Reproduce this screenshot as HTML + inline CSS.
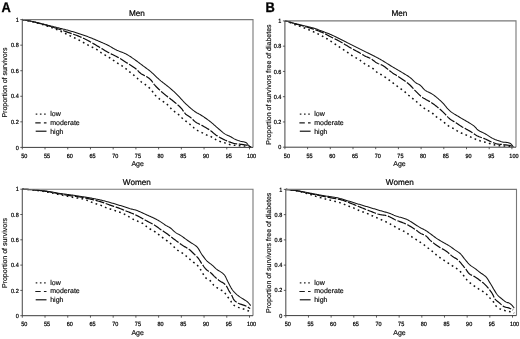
<!DOCTYPE html>
<html><head><meta charset="utf-8"><title>Survival curves</title>
<style>
html,body{margin:0;padding:0;background:#fff;}
body{width:520px;height:339px;overflow:hidden;}
svg{display:block;font-family:"Liberation Sans", Arial, Helvetica, sans-serif;text-rendering:geometricPrecision;filter:blur(0.3px);}
.tk{font-size:6.1px;fill:#000;stroke:#000;stroke-width:0.22px;}
.tt{font-size:8.2px;fill:#000;stroke:#000;stroke-width:0.2px;}
.lb{font-size:7px;fill:#111;stroke:#111;stroke-width:0.18px;}
.pl{font-size:14px;font-weight:bold;fill:#000;stroke:#000;stroke-width:0.3px;}
</style></head>
<body>
<svg width="520" height="339" viewBox="0 0 520 339">
<rect width="520" height="339" fill="#fff"/>
<text class="pl" transform="translate(1.6,11.9) scale(0.92,1)">A</text>
<text class="pl" transform="translate(265.5,11.9) scale(0.92,1)">B</text>
<g>
<path d="M22.30,19.60 L23.05,19.74 L23.80,19.89 L24.55,20.03 L25.30,20.18 L26.05,20.34 L26.80,20.50 L27.55,20.66 L28.30,20.82 L29.05,20.99 L29.80,21.15 L30.55,21.33 L31.30,21.50 L32.05,21.68 L32.80,21.86 L33.55,22.05 L34.30,22.24 L35.05,22.43 L35.80,22.62 L36.55,22.82 L37.30,23.02 L38.05,23.23 L38.80,23.43 L39.55,23.64 L40.30,23.86 L41.05,24.07 L41.80,24.29 L42.55,24.52 L43.30,24.75 L44.05,24.98 L44.80,25.21 L45.55,25.45 L46.30,25.70 L47.05,25.95 L47.80,26.20 L48.55,26.46 L49.30,26.72 L50.05,26.98 L50.80,27.25 L51.55,27.53 L52.30,27.82 L53.05,28.11 L53.80,28.40 L54.55,28.70 L55.30,29.01 L56.05,29.32 L56.80,29.63 L57.55,29.95 L58.30,30.27 L59.05,30.60 L59.80,30.92 L60.55,31.25 L61.30,31.59 L62.05,31.94 L62.80,32.29 L63.55,32.65 L64.30,33.01 L65.05,33.38 L65.80,33.74 L66.55,34.11 L67.30,34.48 L68.05,34.84 L68.80,35.20 L69.55,35.56 L70.30,35.92 L71.05,36.27 L71.80,36.62 L72.55,36.97 L73.30,37.32 L74.05,37.67 L74.80,38.03 L75.55,38.39 L76.30,38.75 L77.05,39.12 L77.80,39.50 L78.55,39.88 L79.30,40.27 L80.05,40.67 L80.80,41.08 L81.55,41.49 L82.30,41.90 L83.05,42.32 L83.80,42.74 L84.55,43.15 L85.30,43.57 L86.05,43.99 L86.80,44.40 L87.55,44.81 L88.30,45.21 L89.05,45.60 L89.80,45.98 L90.55,46.35 L91.30,46.72 L92.05,47.09 L92.80,47.46 L93.55,47.84 L94.30,48.23 L95.05,48.63 L95.80,49.04 L96.55,49.47 L97.30,49.92 L98.05,50.42 L98.80,50.96 L99.55,51.51 L100.30,52.05 L101.05,52.57 L101.80,53.05 L102.55,53.52 L103.30,53.98 L104.05,54.43 L104.80,54.87 L105.55,55.31 L106.30,55.74 L107.05,56.18 L107.80,56.63 L108.55,57.07 L109.30,57.53 L110.05,58.00 L110.80,58.49 L111.55,58.99 L112.30,59.50 L113.05,60.02 L113.80,60.54 L114.55,61.07 L115.30,61.60 L116.05,62.12 L116.80,62.64 L117.55,63.15 L118.30,63.65 L119.05,64.13 L119.80,64.59 L120.55,65.02 L121.30,65.44 L122.05,65.86 L122.80,66.31 L123.55,66.79 L124.30,67.32 L125.05,67.94 L125.80,68.61 L126.55,69.31 L127.30,69.99 L128.05,70.64 L128.80,71.25 L129.55,71.83 L130.30,72.41 L131.05,72.98 L131.80,73.56 L132.55,74.15 L133.30,74.77 L134.05,75.40 L134.80,76.05 L135.55,76.72 L136.30,77.39 L137.05,78.06 L137.80,78.74 L138.55,79.45 L139.30,80.17 L140.05,80.87 L140.80,81.53 L141.55,82.14 L142.30,82.68 L143.05,83.17 L143.80,83.63 L144.55,84.10 L145.30,84.59 L146.05,85.14 L146.80,85.72 L147.55,86.33 L148.30,86.97 L149.05,87.65 L149.80,88.36 L150.55,89.12 L151.30,89.94 L152.05,90.91 L152.80,91.99 L153.55,93.09 L154.30,94.13 L155.05,95.05 L155.80,95.82 L156.55,96.54 L157.30,97.20 L158.05,97.84 L158.80,98.45 L159.55,99.06 L160.30,99.65 L161.05,100.20 L161.80,100.73 L162.55,101.24 L163.30,101.73 L164.05,102.23 L164.80,102.73 L165.55,103.25 L166.30,103.79 L167.05,104.36 L167.80,104.98 L168.55,105.65 L169.30,106.44 L170.05,107.35 L170.80,108.28 L171.55,109.15 L172.30,109.87 L173.05,110.49 L173.80,111.06 L174.55,111.59 L175.30,112.10 L176.05,112.62 L176.80,113.15 L177.55,113.73 L178.30,114.36 L179.05,115.07 L179.80,115.83 L180.55,116.60 L181.30,117.35 L182.05,118.06 L182.80,118.71 L183.55,119.34 L184.30,119.95 L185.05,120.55 L185.80,121.13 L186.55,121.71 L187.30,122.28 L188.05,122.85 L188.80,123.43 L189.55,124.01 L190.30,124.61 L191.05,125.22 L191.80,125.86 L192.55,126.55 L193.30,127.28 L194.05,128.00 L194.80,128.68 L195.55,129.29 L196.30,129.79 L197.05,130.22 L197.80,130.60 L198.55,130.95 L199.30,131.29 L200.05,131.63 L200.80,132.00 L201.55,132.40 L202.30,132.83 L203.05,133.27 L203.80,133.70 L204.55,134.11 L205.30,134.47 L206.05,134.77 L206.80,135.03 L207.55,135.25 L208.30,135.46 L209.05,135.70 L209.80,135.97 L210.55,136.32 L211.30,136.77 L212.05,137.28 L212.80,137.82 L213.55,138.34 L214.30,138.80 L215.05,139.22 L215.80,139.62 L216.55,140.01 L217.30,140.38 L218.05,140.72 L218.80,141.02 L219.55,141.29 L220.30,141.53 L221.05,141.74 L221.80,141.94 L222.55,142.14 L223.30,142.35 L224.05,142.58 L224.80,142.85 L225.55,143.16 L226.30,143.47 L227.05,143.76 L227.80,144.02 L228.55,144.22 L229.30,144.40 L230.05,144.57 L230.80,144.72 L231.55,144.86 L232.30,144.98 L233.05,145.09 L233.80,145.19 L234.55,145.28 L235.30,145.36 L236.05,145.43 L236.80,145.50 L237.55,145.56 L238.30,145.61 L239.05,145.67 L239.80,145.71 L240.55,145.75 L241.30,145.79 L242.05,145.83 L242.80,145.88 L243.55,145.93 L244.30,145.97 L245.05,146.02 L245.80,146.07 L246.55,146.12 L247.30,146.19 L248.05,146.28 L248.80,146.41 L249.55,146.64 L250.30,146.92 L251.05,147.24 L251.20,147.30" fill="none" stroke="#111" stroke-width="1.5" stroke-dasharray="1.7 3.3"/>
<path d="M22.30,19.60 L23.05,19.72 L23.80,19.84 L24.55,19.96 L25.30,20.09 L26.05,20.23 L26.80,20.37 L27.55,20.51 L28.30,20.66 L29.05,20.81 L29.80,20.96 L30.55,21.12 L31.30,21.28 L32.05,21.45 L32.80,21.63 L33.55,21.81 L34.30,21.99 L35.05,22.18 L35.80,22.37 L36.55,22.57 L37.30,22.76 L38.05,22.96 L38.80,23.16 L39.55,23.36 L40.30,23.55 L41.05,23.75 L41.80,23.95 L42.55,24.15 L43.30,24.36 L44.05,24.56 L44.80,24.77 L45.55,24.98 L46.30,25.19 L47.05,25.40 L47.80,25.62 L48.55,25.84 L49.30,26.06 L50.05,26.28 L50.80,26.51 L51.55,26.74 L52.30,26.98 L53.05,27.22 L53.80,27.46 L54.55,27.70 L55.30,27.95 L56.05,28.20 L56.80,28.45 L57.55,28.70 L58.30,28.95 L59.05,29.21 L59.80,29.46 L60.55,29.72 L61.30,29.98 L62.05,30.25 L62.80,30.52 L63.55,30.79 L64.30,31.06 L65.05,31.33 L65.80,31.61 L66.55,31.88 L67.30,32.15 L68.05,32.42 L68.80,32.68 L69.55,32.94 L70.30,33.19 L71.05,33.44 L71.80,33.69 L72.55,33.94 L73.30,34.20 L74.05,34.45 L74.80,34.71 L75.55,34.98 L76.30,35.25 L77.05,35.53 L77.80,35.82 L78.55,36.12 L79.30,36.43 L80.05,36.75 L80.80,37.08 L81.55,37.41 L82.30,37.75 L83.05,38.10 L83.80,38.46 L84.55,38.82 L85.30,39.19 L86.05,39.56 L86.80,39.93 L87.55,40.32 L88.30,40.70 L89.05,41.10 L89.80,41.51 L90.55,41.93 L91.30,42.36 L92.05,42.79 L92.80,43.23 L93.55,43.68 L94.30,44.13 L95.05,44.58 L95.80,45.03 L96.55,45.48 L97.30,45.93 L98.05,46.37 L98.80,46.81 L99.55,47.26 L100.30,47.72 L101.05,48.17 L101.80,48.63 L102.55,49.09 L103.30,49.55 L104.05,50.00 L104.80,50.45 L105.55,50.90 L106.30,51.34 L107.05,51.76 L107.80,52.18 L108.55,52.59 L109.30,52.98 L110.05,53.36 L110.80,53.73 L111.55,54.10 L112.30,54.46 L113.05,54.82 L113.80,55.19 L114.55,55.56 L115.30,55.94 L116.05,56.33 L116.80,56.72 L117.55,57.13 L118.30,57.54 L119.05,57.95 L119.80,58.38 L120.55,58.83 L121.30,59.28 L122.05,59.75 L122.80,60.23 L123.55,60.71 L124.30,61.20 L125.05,61.68 L125.80,62.17 L126.55,62.65 L127.30,63.12 L128.05,63.59 L128.80,64.05 L129.55,64.51 L130.30,64.97 L131.05,65.44 L131.80,65.92 L132.55,66.41 L133.30,66.92 L134.05,67.44 L134.80,67.99 L135.55,68.56 L136.30,69.17 L137.05,69.87 L137.80,70.65 L138.55,71.44 L139.30,72.19 L140.05,72.84 L140.80,73.40 L141.55,73.90 L142.30,74.37 L143.05,74.80 L143.80,75.21 L144.55,75.61 L145.30,76.01 L146.05,76.42 L146.80,76.84 L147.55,77.29 L148.30,77.79 L149.05,78.33 L149.80,78.93 L150.55,79.63 L151.30,80.49 L152.05,81.47 L152.80,82.50 L153.55,83.54 L154.30,84.54 L155.05,85.44 L155.80,86.25 L156.55,87.03 L157.30,87.77 L158.05,88.49 L158.80,89.20 L159.55,89.89 L160.30,90.58 L161.05,91.27 L161.80,91.94 L162.55,92.60 L163.30,93.24 L164.05,93.88 L164.80,94.51 L165.55,95.13 L166.30,95.74 L167.05,96.33 L167.80,96.90 L168.55,97.46 L169.30,98.02 L170.05,98.58 L170.80,99.15 L171.55,99.74 L172.30,100.34 L173.05,100.95 L173.80,101.56 L174.55,102.16 L175.30,102.78 L176.05,103.40 L176.80,104.03 L177.55,104.68 L178.30,105.36 L179.05,106.05 L179.80,106.77 L180.55,107.53 L181.30,108.32 L182.05,109.24 L182.80,110.28 L183.55,111.36 L184.30,112.43 L185.05,113.40 L185.80,114.23 L186.55,114.86 L187.30,115.36 L188.05,115.80 L188.80,116.23 L189.55,116.69 L190.30,117.23 L191.05,117.86 L191.80,118.55 L192.55,119.27 L193.30,120.01 L194.05,120.72 L194.80,121.39 L195.55,121.99 L196.30,122.49 L197.05,122.92 L197.80,123.30 L198.55,123.67 L199.30,124.03 L200.05,124.43 L200.80,124.84 L201.55,125.25 L202.30,125.65 L203.05,126.06 L203.80,126.48 L204.55,126.90 L205.30,127.32 L206.05,127.75 L206.80,128.20 L207.55,128.65 L208.30,129.12 L209.05,129.60 L209.80,130.10 L210.55,130.62 L211.30,131.20 L212.05,131.82 L212.80,132.46 L213.55,133.10 L214.30,133.74 L215.05,134.34 L215.80,134.90 L216.55,135.40 L217.30,135.88 L218.05,136.35 L218.80,136.81 L219.55,137.26 L220.30,137.69 L221.05,138.11 L221.80,138.51 L222.55,138.90 L223.30,139.27 L224.05,139.63 L224.80,139.97 L225.55,140.29 L226.30,140.62 L227.05,140.94 L227.80,141.25 L228.55,141.56 L229.30,141.86 L230.05,142.14 L230.80,142.42 L231.55,142.67 L232.30,142.91 L233.05,143.13 L233.80,143.32 L234.55,143.49 L235.30,143.64 L236.05,143.76 L236.80,143.86 L237.55,143.96 L238.30,144.04 L239.05,144.12 L239.80,144.20 L240.55,144.28 L241.30,144.36 L242.05,144.45 L242.80,144.55 L243.55,144.67 L244.30,144.78 L245.05,144.90 L245.80,145.03 L246.55,145.18 L247.30,145.35 L248.05,145.56 L248.80,145.83 L249.55,146.21 L250.30,146.68 L251.05,147.19 L251.20,147.30" fill="none" stroke="#0c0c0c" stroke-width="1.2" stroke-dasharray="9 1.6"/>
<path d="M22.30,19.60 L23.05,19.72 L23.80,19.85 L24.55,19.98 L25.30,20.11 L26.05,20.24 L26.80,20.38 L27.55,20.52 L28.30,20.67 L29.05,20.81 L29.80,20.96 L30.55,21.11 L31.30,21.27 L32.05,21.43 L32.80,21.59 L33.55,21.76 L34.30,21.93 L35.05,22.10 L35.80,22.28 L36.55,22.45 L37.30,22.63 L38.05,22.81 L38.80,22.99 L39.55,23.17 L40.30,23.35 L41.05,23.53 L41.80,23.71 L42.55,23.90 L43.30,24.08 L44.05,24.27 L44.80,24.46 L45.55,24.65 L46.30,24.84 L47.05,25.03 L47.80,25.22 L48.55,25.41 L49.30,25.60 L50.05,25.79 L50.80,25.97 L51.55,26.16 L52.30,26.34 L53.05,26.53 L53.80,26.71 L54.55,26.90 L55.30,27.08 L56.05,27.27 L56.80,27.45 L57.55,27.64 L58.30,27.82 L59.05,28.01 L59.80,28.20 L60.55,28.39 L61.30,28.58 L62.05,28.76 L62.80,28.95 L63.55,29.14 L64.30,29.33 L65.05,29.52 L65.80,29.71 L66.55,29.91 L67.30,30.11 L68.05,30.31 L68.80,30.52 L69.55,30.73 L70.30,30.95 L71.05,31.17 L71.80,31.39 L72.55,31.61 L73.30,31.83 L74.05,32.06 L74.80,32.29 L75.55,32.52 L76.30,32.76 L77.05,33.00 L77.80,33.24 L78.55,33.48 L79.30,33.72 L80.05,33.97 L80.80,34.22 L81.55,34.47 L82.30,34.72 L83.05,34.98 L83.80,35.24 L84.55,35.51 L85.30,35.77 L86.05,36.04 L86.80,36.32 L87.55,36.59 L88.30,36.88 L89.05,37.16 L89.80,37.45 L90.55,37.75 L91.30,38.05 L92.05,38.35 L92.80,38.66 L93.55,38.97 L94.30,39.29 L95.05,39.60 L95.80,39.92 L96.55,40.24 L97.30,40.56 L98.05,40.88 L98.80,41.20 L99.55,41.52 L100.30,41.83 L101.05,42.15 L101.80,42.47 L102.55,42.80 L103.30,43.12 L104.05,43.45 L104.80,43.79 L105.55,44.13 L106.30,44.48 L107.05,44.84 L107.80,45.20 L108.55,45.58 L109.30,45.98 L110.05,46.40 L110.80,46.84 L111.55,47.29 L112.30,47.74 L113.05,48.18 L113.80,48.62 L114.55,49.04 L115.30,49.45 L116.05,49.82 L116.80,50.17 L117.55,50.50 L118.30,50.82 L119.05,51.12 L119.80,51.41 L120.55,51.70 L121.30,51.98 L122.05,52.27 L122.80,52.57 L123.55,52.87 L124.30,53.19 L125.05,53.54 L125.80,53.90 L126.55,54.29 L127.30,54.70 L128.05,55.14 L128.80,55.59 L129.55,56.07 L130.30,56.56 L131.05,57.06 L131.80,57.57 L132.55,58.09 L133.30,58.62 L134.05,59.15 L134.80,59.68 L135.55,60.21 L136.30,60.74 L137.05,61.28 L137.80,61.83 L138.55,62.40 L139.30,62.97 L140.05,63.55 L140.80,64.12 L141.55,64.70 L142.30,65.27 L143.05,65.84 L143.80,66.39 L144.55,66.94 L145.30,67.48 L146.05,68.02 L146.80,68.56 L147.55,69.11 L148.30,69.67 L149.05,70.24 L149.80,70.84 L150.55,71.46 L151.30,72.11 L152.05,72.78 L152.80,73.47 L153.55,74.18 L154.30,74.89 L155.05,75.62 L155.80,76.34 L156.55,77.06 L157.30,77.77 L158.05,78.48 L158.80,79.16 L159.55,79.83 L160.30,80.47 L161.05,81.09 L161.80,81.68 L162.55,82.27 L163.30,82.85 L164.05,83.42 L164.80,83.99 L165.55,84.56 L166.30,85.14 L167.05,85.73 L167.80,86.34 L168.55,86.96 L169.30,87.58 L170.05,88.21 L170.80,88.85 L171.55,89.49 L172.30,90.14 L173.05,90.80 L173.80,91.47 L174.55,92.15 L175.30,92.84 L176.05,93.55 L176.80,94.28 L177.55,95.04 L178.30,95.83 L179.05,96.63 L179.80,97.45 L180.55,98.28 L181.30,99.11 L182.05,99.93 L182.80,100.75 L183.55,101.55 L184.30,102.34 L185.05,103.09 L185.80,103.82 L186.55,104.52 L187.30,105.21 L188.05,105.89 L188.80,106.57 L189.55,107.25 L190.30,107.90 L191.05,108.55 L191.80,109.18 L192.55,109.79 L193.30,110.38 L194.05,110.95 L194.80,111.49 L195.55,112.01 L196.30,112.49 L197.05,112.92 L197.80,113.32 L198.55,113.70 L199.30,114.10 L200.05,114.53 L200.80,114.99 L201.55,115.46 L202.30,115.94 L203.05,116.43 L203.80,116.93 L204.55,117.45 L205.30,117.97 L206.05,118.50 L206.80,119.04 L207.55,119.58 L208.30,120.14 L209.05,120.70 L209.80,121.27 L210.55,121.85 L211.30,122.45 L212.05,123.07 L212.80,123.71 L213.55,124.36 L214.30,125.02 L215.05,125.68 L215.80,126.35 L216.55,127.02 L217.30,127.69 L218.05,128.35 L218.80,129.00 L219.55,129.64 L220.30,130.27 L221.05,130.91 L221.80,131.56 L222.55,132.20 L223.30,132.82 L224.05,133.40 L224.80,133.92 L225.55,134.36 L226.30,134.74 L227.05,135.09 L227.80,135.42 L228.55,135.74 L229.30,136.07 L230.05,136.42 L230.80,136.82 L231.55,137.25 L232.30,137.70 L233.05,138.15 L233.80,138.59 L234.55,138.99 L235.30,139.34 L236.05,139.66 L236.80,139.97 L237.55,140.25 L238.30,140.52 L239.05,140.77 L239.80,141.01 L240.55,141.23 L241.30,141.40 L242.05,141.55 L242.80,141.69 L243.55,141.83 L244.30,142.00 L245.05,142.21 L245.80,142.47 L246.55,142.90 L247.30,143.75 L248.05,144.78 L248.80,145.73 L249.55,146.36 L250.30,146.85 L251.05,147.24 L251.20,147.30" fill="none" stroke="#161616" stroke-width="1.05"/>
<path d="M22.3,19.6 H253 V147.4" fill="none" stroke="#787878" stroke-width="1.1"/>
<path d="M22.3,19.6 V147.4" fill="none" stroke="#555" stroke-width="1.1"/>
<path d="M22.3,147.4 H253" fill="none" stroke="#3c3c3c" stroke-width="1"/>
<path d="M20.3,147.4 H22.3 M20.3,121.84 H22.3 M20.3,96.28 H22.3 M20.3,70.72 H22.3 M20.3,45.16 H22.3 M20.3,19.6 H22.3 M22.3,147.4 V149.4 M45.02,147.4 V149.4 M67.74,147.4 V149.4 M90.46,147.4 V149.4 M113.18,147.4 V149.4 M135.9,147.4 V149.4 M158.62,147.4 V149.4 M181.34,147.4 V149.4 M204.06,147.4 V149.4 M226.78,147.4 V149.4 M249.5,147.4 V149.4" stroke="#333" stroke-width="0.8"/>
<g class="tk"><text transform="translate(18.7,149.5) scale(0.9,1)" text-anchor="end">0</text><text transform="translate(18.7,123.94) scale(0.9,1)" text-anchor="end">0.2</text><text transform="translate(18.7,98.38) scale(0.9,1)" text-anchor="end">0.4</text><text transform="translate(18.7,72.82) scale(0.9,1)" text-anchor="end">0.6</text><text transform="translate(18.7,47.26) scale(0.9,1)" text-anchor="end">0.8</text><text transform="translate(18.7,21.7) scale(0.9,1)" text-anchor="end">1</text><text transform="translate(24.3,157.7) scale(0.9,1)" text-anchor="middle">50</text><text transform="translate(47.02,157.7) scale(0.9,1)" text-anchor="middle">55</text><text transform="translate(69.74,157.7) scale(0.9,1)" text-anchor="middle">60</text><text transform="translate(92.46,157.7) scale(0.9,1)" text-anchor="middle">65</text><text transform="translate(115.18,157.7) scale(0.9,1)" text-anchor="middle">70</text><text transform="translate(137.9,157.7) scale(0.9,1)" text-anchor="middle">75</text><text transform="translate(160.62,157.7) scale(0.9,1)" text-anchor="middle">80</text><text transform="translate(183.34,157.7) scale(0.9,1)" text-anchor="middle">85</text><text transform="translate(206.06,157.7) scale(0.9,1)" text-anchor="middle">90</text><text transform="translate(228.78,157.7) scale(0.9,1)" text-anchor="middle">95</text><text transform="translate(251.5,157.7) scale(0.9,1)" text-anchor="middle">100</text></g>
<text x="136.9" y="15.6" class="tt" text-anchor="middle">Men</text>
<text x="137.7" y="166.3" class="lb" text-anchor="middle">Age</text>
<text transform="translate(6.9,82.6) rotate(-90)" class="lb" text-anchor="middle">Proportion of survivors</text>
<text x="50.2" y="116.1" class="lb">low</text>
<path d="M35.7,114.2 H46.5" stroke="#222" stroke-width="1.2" stroke-dasharray="1.6 2.6"/>
<text x="50.2" y="124.8" class="lb">moderate</text>
<path d="M35.3,122.9 H46.5" stroke="#1a1a1a" stroke-width="1.2" stroke-dasharray="5.4 3.2"/>
<text x="50.2" y="133.5" class="lb">high</text>
<path d="M35.7,131.2 H46.5" stroke="#000" stroke-width="1.1"/>
</g>
<g>
<path d="M22.30,189.20 L23.05,189.23 L23.80,189.26 L24.55,189.30 L25.30,189.34 L26.05,189.39 L26.80,189.44 L27.55,189.49 L28.30,189.55 L29.05,189.61 L29.80,189.67 L30.55,189.73 L31.30,189.80 L32.05,189.86 L32.80,189.93 L33.55,190.00 L34.30,190.08 L35.05,190.16 L35.80,190.25 L36.55,190.34 L37.30,190.44 L38.05,190.55 L38.80,190.66 L39.55,190.77 L40.30,190.89 L41.05,191.00 L41.80,191.13 L42.55,191.25 L43.30,191.38 L44.05,191.51 L44.80,191.64 L45.55,191.77 L46.30,191.90 L47.05,192.03 L47.80,192.16 L48.55,192.30 L49.30,192.44 L50.05,192.59 L50.80,192.74 L51.55,192.90 L52.30,193.06 L53.05,193.22 L53.80,193.38 L54.55,193.54 L55.30,193.71 L56.05,193.87 L56.80,194.04 L57.55,194.20 L58.30,194.36 L59.05,194.52 L59.80,194.68 L60.55,194.83 L61.30,194.98 L62.05,195.14 L62.80,195.30 L63.55,195.45 L64.30,195.61 L65.05,195.77 L65.80,195.92 L66.55,196.08 L67.30,196.23 L68.05,196.39 L68.80,196.54 L69.55,196.69 L70.30,196.84 L71.05,196.99 L71.80,197.13 L72.55,197.27 L73.30,197.41 L74.05,197.54 L74.80,197.67 L75.55,197.79 L76.30,197.90 L77.05,198.01 L77.80,198.11 L78.55,198.22 L79.30,198.33 L80.05,198.45 L80.80,198.57 L81.55,198.70 L82.30,198.85 L83.05,199.01 L83.80,199.20 L84.55,199.41 L85.30,199.64 L86.05,199.90 L86.80,200.16 L87.55,200.43 L88.30,200.71 L89.05,201.03 L89.80,201.36 L90.55,201.71 L91.30,202.06 L92.05,202.38 L92.80,202.67 L93.55,202.94 L94.30,203.20 L95.05,203.44 L95.80,203.68 L96.55,203.92 L97.30,204.17 L98.05,204.41 L98.80,204.65 L99.55,204.89 L100.30,205.14 L101.05,205.40 L101.80,205.68 L102.55,205.99 L103.30,206.34 L104.05,206.70 L104.80,207.05 L105.55,207.38 L106.30,207.68 L107.05,207.94 L107.80,208.20 L108.55,208.44 L109.30,208.68 L110.05,208.92 L110.80,209.17 L111.55,209.41 L112.30,209.66 L113.05,209.90 L113.80,210.15 L114.55,210.41 L115.30,210.67 L116.05,210.94 L116.80,211.20 L117.55,211.46 L118.30,211.73 L119.05,212.00 L119.80,212.28 L120.55,212.57 L121.30,212.86 L122.05,213.16 L122.80,213.48 L123.55,213.80 L124.30,214.15 L125.05,214.52 L125.80,214.92 L126.55,215.35 L127.30,215.79 L128.05,216.23 L128.80,216.66 L129.55,217.10 L130.30,217.55 L131.05,218.00 L131.80,218.45 L132.55,218.87 L133.30,219.25 L134.05,219.60 L134.80,219.94 L135.55,220.27 L136.30,220.58 L137.05,220.90 L137.80,221.23 L138.55,221.54 L139.30,221.83 L140.05,222.13 L140.80,222.45 L141.55,222.81 L142.30,223.22 L143.05,223.72 L143.80,224.30 L144.55,224.93 L145.30,225.57 L146.05,226.18 L146.80,226.74 L147.55,227.27 L148.30,227.79 L149.05,228.30 L149.80,228.79 L150.55,229.26 L151.30,229.72 L152.05,230.14 L152.80,230.54 L153.55,230.93 L154.30,231.33 L155.05,231.76 L155.80,232.23 L156.55,232.77 L157.30,233.37 L158.05,233.99 L158.80,234.62 L159.55,235.24 L160.30,235.84 L161.05,236.43 L161.80,237.03 L162.55,237.62 L163.30,238.21 L164.05,238.77 L164.80,239.31 L165.55,239.81 L166.30,240.28 L167.05,240.75 L167.80,241.23 L168.55,241.76 L169.30,242.35 L170.05,243.02 L170.80,243.76 L171.55,244.53 L172.30,245.31 L173.05,246.07 L173.80,246.79 L174.55,247.50 L175.30,248.21 L176.05,248.91 L176.80,249.57 L177.55,250.19 L178.30,250.74 L179.05,251.22 L179.80,251.65 L180.55,252.06 L181.30,252.48 L182.05,252.94 L182.80,253.44 L183.55,253.99 L184.30,254.56 L185.05,255.16 L185.80,255.77 L186.55,256.39 L187.30,257.02 L188.05,257.64 L188.80,258.28 L189.55,258.95 L190.30,259.62 L191.05,260.29 L191.80,260.93 L192.55,261.54 L193.30,262.11 L194.05,262.65 L194.80,263.19 L195.55,263.76 L196.30,264.37 L197.05,265.05 L197.80,265.83 L198.55,266.72 L199.30,267.69 L200.05,268.76 L200.80,269.99 L201.55,271.27 L202.30,272.48 L203.05,273.76 L203.80,275.06 L204.55,276.28 L205.30,277.34 L206.05,278.14 L206.80,278.71 L207.55,279.15 L208.30,279.53 L209.05,279.94 L209.80,280.44 L210.55,281.13 L211.30,282.04 L212.05,283.07 L212.80,284.11 L213.55,285.04 L214.30,285.77 L215.05,286.38 L215.80,286.93 L216.55,287.43 L217.30,287.90 L218.05,288.36 L218.80,288.81 L219.55,289.27 L220.30,289.67 L221.05,290.05 L221.80,290.43 L222.55,290.86 L223.30,291.37 L224.05,292.01 L224.80,292.86 L225.55,293.85 L226.30,294.90 L227.05,295.93 L227.80,296.94 L228.55,297.97 L229.30,299.02 L230.05,300.08 L230.80,301.16 L231.55,302.31 L232.30,303.58 L233.05,304.56 L233.80,305.15 L234.55,305.65 L235.30,306.07 L236.05,306.44 L236.80,306.77 L237.55,307.08 L238.30,307.37 L239.05,307.64 L239.80,307.88 L240.55,308.11 L241.30,308.34 L242.05,308.58 L242.80,308.83 L243.55,309.06 L244.30,309.30 L245.05,309.54 L245.80,309.80 L246.55,310.08 L247.30,310.39 L248.05,310.73 L248.80,311.09 L249.55,311.47 L250.30,311.88 L250.70,312.10" fill="none" stroke="#111" stroke-width="1.5" stroke-dasharray="1.7 3.3"/>
<path d="M22.30,189.20 L23.05,189.23 L23.80,189.26 L24.55,189.30 L25.30,189.33 L26.05,189.38 L26.80,189.42 L27.55,189.47 L28.30,189.51 L29.05,189.56 L29.80,189.62 L30.55,189.67 L31.30,189.73 L32.05,189.78 L32.80,189.84 L33.55,189.90 L34.30,189.97 L35.05,190.03 L35.80,190.11 L36.55,190.18 L37.30,190.26 L38.05,190.34 L38.80,190.43 L39.55,190.51 L40.30,190.61 L41.05,190.70 L41.80,190.79 L42.55,190.89 L43.30,190.99 L44.05,191.10 L44.80,191.20 L45.55,191.31 L46.30,191.41 L47.05,191.52 L47.80,191.64 L48.55,191.76 L49.30,191.88 L50.05,192.02 L50.80,192.15 L51.55,192.29 L52.30,192.44 L53.05,192.58 L53.80,192.73 L54.55,192.88 L55.30,193.03 L56.05,193.18 L56.80,193.33 L57.55,193.47 L58.30,193.62 L59.05,193.76 L59.80,193.89 L60.55,194.03 L61.30,194.16 L62.05,194.29 L62.80,194.42 L63.55,194.55 L64.30,194.68 L65.05,194.81 L65.80,194.93 L66.55,195.06 L67.30,195.19 L68.05,195.31 L68.80,195.43 L69.55,195.55 L70.30,195.67 L71.05,195.79 L71.80,195.91 L72.55,196.02 L73.30,196.13 L74.05,196.24 L74.80,196.34 L75.55,196.43 L76.30,196.52 L77.05,196.61 L77.80,196.70 L78.55,196.79 L79.30,196.90 L80.05,197.01 L80.80,197.13 L81.55,197.25 L82.30,197.39 L83.05,197.53 L83.80,197.67 L84.55,197.82 L85.30,197.97 L86.05,198.13 L86.80,198.29 L87.55,198.45 L88.30,198.62 L89.05,198.79 L89.80,198.96 L90.55,199.12 L91.30,199.30 L92.05,199.47 L92.80,199.65 L93.55,199.83 L94.30,200.02 L95.05,200.21 L95.80,200.40 L96.55,200.60 L97.30,200.80 L98.05,201.01 L98.80,201.22 L99.55,201.44 L100.30,201.66 L101.05,201.89 L101.80,202.13 L102.55,202.38 L103.30,202.64 L104.05,202.91 L104.80,203.18 L105.55,203.45 L106.30,203.72 L107.05,204.00 L107.80,204.28 L108.55,204.55 L109.30,204.82 L110.05,205.08 L110.80,205.34 L111.55,205.60 L112.30,205.85 L113.05,206.10 L113.80,206.36 L114.55,206.61 L115.30,206.86 L116.05,207.12 L116.80,207.37 L117.55,207.63 L118.30,207.90 L119.05,208.17 L119.80,208.45 L120.55,208.73 L121.30,209.03 L122.05,209.34 L122.80,209.66 L123.55,209.98 L124.30,210.30 L125.05,210.61 L125.80,210.92 L126.55,211.21 L127.30,211.50 L128.05,211.78 L128.80,212.06 L129.55,212.34 L130.30,212.64 L131.05,212.94 L131.80,213.25 L132.55,213.56 L133.30,213.88 L134.05,214.21 L134.80,214.54 L135.55,214.89 L136.30,215.24 L137.05,215.61 L137.80,216.00 L138.55,216.39 L139.30,216.79 L140.05,217.20 L140.80,217.62 L141.55,218.04 L142.30,218.47 L143.05,218.89 L143.80,219.32 L144.55,219.74 L145.30,220.16 L146.05,220.57 L146.80,220.98 L147.55,221.38 L148.30,221.77 L149.05,222.16 L149.80,222.55 L150.55,222.94 L151.30,223.33 L152.05,223.73 L152.80,224.14 L153.55,224.56 L154.30,224.99 L155.05,225.44 L155.80,225.91 L156.55,226.40 L157.30,226.95 L158.05,227.52 L158.80,228.11 L159.55,228.68 L160.30,229.21 L161.05,229.72 L161.80,230.20 L162.55,230.68 L163.30,231.16 L164.05,231.64 L164.80,232.13 L165.55,232.64 L166.30,233.17 L167.05,233.74 L167.80,234.34 L168.55,234.94 L169.30,235.55 L170.05,236.14 L170.80,236.71 L171.55,237.28 L172.30,237.85 L173.05,238.41 L173.80,238.96 L174.55,239.52 L175.30,240.07 L176.05,240.62 L176.80,241.17 L177.55,241.72 L178.30,242.27 L179.05,242.83 L179.80,243.38 L180.55,243.94 L181.30,244.50 L182.05,245.03 L182.80,245.53 L183.55,245.99 L184.30,246.43 L185.05,246.86 L185.80,247.29 L186.55,247.71 L187.30,248.16 L188.05,248.63 L188.80,249.13 L189.55,249.67 L190.30,250.27 L191.05,251.01 L191.80,251.80 L192.55,252.54 L193.30,253.25 L194.05,253.95 L194.80,254.65 L195.55,255.36 L196.30,256.11 L197.05,256.89 L197.80,257.74 L198.55,258.68 L199.30,259.76 L200.05,260.93 L200.80,262.13 L201.55,263.30 L202.30,264.38 L203.05,265.44 L203.80,266.50 L204.55,267.51 L205.30,268.44 L206.05,269.25 L206.80,269.93 L207.55,270.52 L208.30,271.06 L209.05,271.57 L209.80,272.09 L210.55,272.65 L211.30,273.28 L212.05,274.00 L212.80,274.77 L213.55,275.56 L214.30,276.34 L215.05,277.06 L215.80,277.72 L216.55,278.36 L217.30,278.98 L218.05,279.58 L218.80,280.16 L219.55,280.71 L220.30,281.24 L221.05,281.70 L221.80,282.12 L222.55,282.54 L223.30,283.01 L224.05,283.56 L224.80,284.23 L225.55,285.04 L226.30,285.97 L227.05,287.03 L227.80,288.40 L228.55,290.03 L229.30,291.43 L230.05,292.53 L230.80,293.62 L231.55,294.95 L232.30,296.62 L233.05,298.32 L233.80,299.71 L234.55,300.58 L235.30,301.28 L236.05,301.87 L236.80,302.38 L237.55,302.81 L238.30,303.20 L239.05,303.53 L239.80,303.81 L240.55,304.06 L241.30,304.32 L242.05,304.58 L242.80,304.85 L243.55,305.11 L244.30,305.38 L245.05,305.66 L245.80,305.96 L246.55,306.32 L247.30,306.71 L248.05,307.15 L248.80,307.63 L249.55,308.14 L250.20,308.60" fill="none" stroke="#0c0c0c" stroke-width="1.2" stroke-dasharray="9 1.6"/>
<path d="M22.30,189.20 L23.05,189.22 L23.80,189.25 L24.55,189.28 L25.30,189.31 L26.05,189.35 L26.80,189.39 L27.55,189.43 L28.30,189.47 L29.05,189.51 L29.80,189.56 L30.55,189.60 L31.30,189.65 L32.05,189.70 L32.80,189.75 L33.55,189.80 L34.30,189.86 L35.05,189.92 L35.80,189.98 L36.55,190.04 L37.30,190.11 L38.05,190.18 L38.80,190.26 L39.55,190.33 L40.30,190.41 L41.05,190.49 L41.80,190.58 L42.55,190.66 L43.30,190.75 L44.05,190.84 L44.80,190.93 L45.55,191.03 L46.30,191.12 L47.05,191.22 L47.80,191.32 L48.55,191.43 L49.30,191.55 L50.05,191.67 L50.80,191.80 L51.55,191.93 L52.30,192.07 L53.05,192.20 L53.80,192.34 L54.55,192.48 L55.30,192.62 L56.05,192.76 L56.80,192.90 L57.55,193.03 L58.30,193.16 L59.05,193.29 L59.80,193.41 L60.55,193.52 L61.30,193.63 L62.05,193.74 L62.80,193.84 L63.55,193.94 L64.30,194.04 L65.05,194.14 L65.80,194.24 L66.55,194.33 L67.30,194.43 L68.05,194.52 L68.80,194.62 L69.55,194.72 L70.30,194.81 L71.05,194.91 L71.80,195.02 L72.55,195.12 L73.30,195.23 L74.05,195.34 L74.80,195.45 L75.55,195.57 L76.30,195.69 L77.05,195.82 L77.80,195.94 L78.55,196.06 L79.30,196.19 L80.05,196.31 L80.80,196.43 L81.55,196.55 L82.30,196.66 L83.05,196.78 L83.80,196.89 L84.55,197.01 L85.30,197.13 L86.05,197.24 L86.80,197.36 L87.55,197.48 L88.30,197.61 L89.05,197.73 L89.80,197.86 L90.55,198.00 L91.30,198.13 L92.05,198.27 L92.80,198.41 L93.55,198.55 L94.30,198.69 L95.05,198.84 L95.80,198.99 L96.55,199.14 L97.30,199.29 L98.05,199.45 L98.80,199.61 L99.55,199.78 L100.30,199.95 L101.05,200.12 L101.80,200.30 L102.55,200.48 L103.30,200.67 L104.05,200.86 L104.80,201.06 L105.55,201.25 L106.30,201.46 L107.05,201.66 L107.80,201.86 L108.55,202.07 L109.30,202.28 L110.05,202.49 L110.80,202.70 L111.55,202.91 L112.30,203.13 L113.05,203.35 L113.80,203.57 L114.55,203.80 L115.30,204.02 L116.05,204.25 L116.80,204.48 L117.55,204.71 L118.30,204.93 L119.05,205.16 L119.80,205.38 L120.55,205.60 L121.30,205.82 L122.05,206.03 L122.80,206.24 L123.55,206.46 L124.30,206.68 L125.05,206.90 L125.80,207.14 L126.55,207.39 L127.30,207.66 L128.05,207.94 L128.80,208.22 L129.55,208.49 L130.30,208.73 L131.05,208.94 L131.80,209.13 L132.55,209.31 L133.30,209.49 L134.05,209.66 L134.80,209.85 L135.55,210.06 L136.30,210.30 L137.05,210.56 L137.80,210.84 L138.55,211.14 L139.30,211.45 L140.05,211.78 L140.80,212.12 L141.55,212.47 L142.30,212.82 L143.05,213.18 L143.80,213.53 L144.55,213.89 L145.30,214.24 L146.05,214.58 L146.80,214.91 L147.55,215.24 L148.30,215.57 L149.05,215.91 L149.80,216.24 L150.55,216.57 L151.30,216.91 L152.05,217.25 L152.80,217.59 L153.55,217.94 L154.30,218.30 L155.05,218.67 L155.80,219.05 L156.55,219.43 L157.30,219.84 L158.05,220.25 L158.80,220.68 L159.55,221.13 L160.30,221.59 L161.05,222.07 L161.80,222.59 L162.55,223.11 L163.30,223.65 L164.05,224.18 L164.80,224.70 L165.55,225.19 L166.30,225.66 L167.05,226.08 L167.80,226.47 L168.55,226.86 L169.30,227.27 L170.05,227.73 L170.80,228.28 L171.55,228.91 L172.30,229.60 L173.05,230.31 L173.80,231.02 L174.55,231.71 L175.30,232.34 L176.05,232.90 L176.80,233.37 L177.55,233.77 L178.30,234.15 L179.05,234.52 L179.80,234.92 L180.55,235.38 L181.30,235.86 L182.05,236.37 L182.80,236.91 L183.55,237.45 L184.30,238.01 L185.05,238.57 L185.80,239.12 L186.55,239.67 L187.30,240.21 L188.05,240.73 L188.80,241.24 L189.55,241.73 L190.30,242.23 L191.05,242.72 L191.80,243.18 L192.55,243.63 L193.30,244.09 L194.05,244.57 L194.80,245.08 L195.55,245.64 L196.30,246.26 L197.05,246.95 L197.80,247.81 L198.55,248.89 L199.30,250.13 L200.05,251.44 L200.80,252.75 L201.55,253.98 L202.30,255.08 L203.05,256.12 L203.80,257.15 L204.55,258.14 L205.30,259.10 L206.05,259.98 L206.80,260.80 L207.55,261.52 L208.30,262.17 L209.05,262.77 L209.80,263.33 L210.55,263.88 L211.30,264.45 L212.05,265.06 L212.80,265.72 L213.55,266.42 L214.30,267.13 L215.05,267.85 L215.80,268.54 L216.55,269.17 L217.30,269.74 L218.05,270.23 L218.80,270.68 L219.55,271.14 L220.30,271.64 L221.05,272.14 L221.80,272.64 L222.55,273.18 L223.30,273.80 L224.05,274.55 L224.80,275.54 L225.55,276.86 L226.30,278.39 L227.05,279.98 L227.80,281.52 L228.55,282.96 L229.30,284.44 L230.05,285.93 L230.80,287.36 L231.55,288.66 L232.30,289.78 L233.05,290.76 L233.80,291.64 L234.55,292.45 L235.30,293.19 L236.05,293.89 L236.80,294.55 L237.55,295.18 L238.30,295.77 L239.05,296.34 L239.80,296.89 L240.55,297.41 L241.30,297.89 L242.05,298.35 L242.80,298.80 L243.55,299.25 L244.30,299.73 L245.05,300.19 L245.80,300.66 L246.55,301.17 L247.30,301.77 L248.05,302.46 L248.80,303.25 L249.55,304.12 L250.30,305.07 L250.70,305.60" fill="none" stroke="#161616" stroke-width="1.05"/>
<path d="M22.3,189.2 H253 V315.7" fill="none" stroke="#787878" stroke-width="1.1"/>
<path d="M22.3,189.2 V315.7" fill="none" stroke="#555" stroke-width="1.1"/>
<path d="M22.3,315.7 H253" fill="none" stroke="#3c3c3c" stroke-width="1"/>
<path d="M20.3,315.7 H22.3 M20.3,290.4 H22.3 M20.3,265.1 H22.3 M20.3,239.8 H22.3 M20.3,214.5 H22.3 M20.3,189.2 H22.3 M22.3,315.7 V317.7 M45.02,315.7 V317.7 M67.74,315.7 V317.7 M90.46,315.7 V317.7 M113.18,315.7 V317.7 M135.9,315.7 V317.7 M158.62,315.7 V317.7 M181.34,315.7 V317.7 M204.06,315.7 V317.7 M226.78,315.7 V317.7 M249.5,315.7 V317.7" stroke="#333" stroke-width="0.8"/>
<g class="tk"><text transform="translate(18.7,317.8) scale(0.9,1)" text-anchor="end">0</text><text transform="translate(18.7,292.5) scale(0.9,1)" text-anchor="end">0.2</text><text transform="translate(18.7,267.2) scale(0.9,1)" text-anchor="end">0.4</text><text transform="translate(18.7,241.9) scale(0.9,1)" text-anchor="end">0.6</text><text transform="translate(18.7,216.6) scale(0.9,1)" text-anchor="end">0.8</text><text transform="translate(18.7,191.3) scale(0.9,1)" text-anchor="end">1</text><text transform="translate(24.3,326) scale(0.9,1)" text-anchor="middle">50</text><text transform="translate(47.02,326) scale(0.9,1)" text-anchor="middle">55</text><text transform="translate(69.74,326) scale(0.9,1)" text-anchor="middle">60</text><text transform="translate(92.46,326) scale(0.9,1)" text-anchor="middle">65</text><text transform="translate(115.18,326) scale(0.9,1)" text-anchor="middle">70</text><text transform="translate(137.9,326) scale(0.9,1)" text-anchor="middle">75</text><text transform="translate(160.62,326) scale(0.9,1)" text-anchor="middle">80</text><text transform="translate(183.34,326) scale(0.9,1)" text-anchor="middle">85</text><text transform="translate(206.06,326) scale(0.9,1)" text-anchor="middle">90</text><text transform="translate(228.78,326) scale(0.9,1)" text-anchor="middle">95</text><text transform="translate(251.5,326) scale(0.9,1)" text-anchor="middle">100</text></g>
<text x="136.9" y="185" class="tt" text-anchor="middle">Women</text>
<text x="137.7" y="334.6" class="lb" text-anchor="middle">Age</text>
<text transform="translate(6.9,253.05) rotate(-90)" class="lb" text-anchor="middle">Proportion of survivors</text>
<text x="50.2" y="284.7" class="lb">low</text>
<path d="M35.7,282.8 H46.5" stroke="#222" stroke-width="1.2" stroke-dasharray="1.6 2.6"/>
<text x="50.2" y="293.4" class="lb">moderate</text>
<path d="M35.3,291.5 H46.5" stroke="#1a1a1a" stroke-width="1.2" stroke-dasharray="5.4 3.2"/>
<text x="50.2" y="302.1" class="lb">high</text>
<path d="M35.7,299.8 H46.5" stroke="#000" stroke-width="1.1"/>
</g>
<g>
<path d="M284.90,20.90 L285.65,21.02 L286.40,21.17 L287.15,21.36 L287.90,21.57 L288.65,21.83 L289.40,22.16 L290.15,22.54 L290.90,22.95 L291.65,23.35 L292.40,23.73 L293.15,24.06 L293.90,24.36 L294.65,24.64 L295.40,24.91 L296.15,25.17 L296.90,25.42 L297.65,25.66 L298.40,25.91 L299.15,26.15 L299.90,26.39 L300.65,26.64 L301.40,26.89 L302.15,27.15 L302.90,27.43 L303.65,27.71 L304.40,27.99 L305.15,28.28 L305.90,28.58 L306.65,28.87 L307.40,29.17 L308.15,29.48 L308.90,29.79 L309.65,30.10 L310.40,30.42 L311.15,30.74 L311.90,31.07 L312.65,31.40 L313.40,31.73 L314.15,32.08 L314.90,32.42 L315.65,32.77 L316.40,33.12 L317.15,33.48 L317.90,33.85 L318.65,34.22 L319.40,34.60 L320.15,34.98 L320.90,35.37 L321.65,35.76 L322.40,36.16 L323.15,36.57 L323.90,36.99 L324.65,37.42 L325.40,37.85 L326.15,38.30 L326.90,38.75 L327.65,39.22 L328.40,39.69 L329.15,40.16 L329.90,40.64 L330.65,41.12 L331.40,41.61 L332.15,42.10 L332.90,42.60 L333.65,43.12 L334.40,43.64 L335.15,44.17 L335.90,44.69 L336.65,45.20 L337.40,45.71 L338.15,46.21 L338.90,46.71 L339.65,47.21 L340.40,47.70 L341.15,48.20 L341.90,48.69 L342.65,49.17 L343.40,49.66 L344.15,50.14 L344.90,50.63 L345.65,51.13 L346.40,51.65 L347.15,52.18 L347.90,52.72 L348.65,53.25 L349.40,53.78 L350.15,54.30 L350.90,54.80 L351.65,55.28 L352.40,55.76 L353.15,56.23 L353.90,56.68 L354.65,57.13 L355.40,57.55 L356.15,57.95 L356.90,58.34 L357.65,58.74 L358.40,59.17 L359.15,59.63 L359.90,60.16 L360.65,60.75 L361.40,61.37 L362.15,62.00 L362.90,62.59 L363.65,63.13 L364.40,63.62 L365.15,64.08 L365.90,64.51 L366.65,64.92 L367.40,65.32 L368.15,65.72 L368.90,66.12 L369.65,66.52 L370.40,66.94 L371.15,67.38 L371.90,67.85 L372.65,68.35 L373.40,68.91 L374.15,69.56 L374.90,70.28 L375.65,71.01 L376.40,71.72 L377.15,72.35 L377.90,72.86 L378.65,73.31 L379.40,73.72 L380.15,74.10 L380.90,74.49 L381.65,74.90 L382.40,75.34 L383.15,75.80 L383.90,76.28 L384.65,76.77 L385.40,77.27 L386.15,77.78 L386.90,78.32 L387.65,78.88 L388.40,79.46 L389.15,80.06 L389.90,80.66 L390.65,81.25 L391.40,81.83 L392.15,82.40 L392.90,82.96 L393.65,83.52 L394.40,84.08 L395.15,84.64 L395.90,85.19 L396.65,85.75 L397.40,86.30 L398.15,86.85 L398.90,87.41 L399.65,87.97 L400.40,88.53 L401.15,89.08 L401.90,89.63 L402.65,90.18 L403.40,90.74 L404.15,91.32 L404.90,91.93 L405.65,92.58 L406.40,93.26 L407.15,93.95 L407.90,94.63 L408.65,95.30 L409.40,95.93 L410.15,96.55 L410.90,97.15 L411.65,97.74 L412.40,98.34 L413.15,98.94 L413.90,99.54 L414.65,100.15 L415.40,100.76 L416.15,101.38 L416.90,102.00 L417.65,102.64 L418.40,103.32 L419.15,104.02 L419.90,104.74 L420.65,105.44 L421.40,106.11 L422.15,106.72 L422.90,107.29 L423.65,107.83 L424.40,108.36 L425.15,108.86 L425.90,109.35 L426.65,109.82 L427.40,110.28 L428.15,110.69 L428.90,111.08 L429.65,111.46 L430.40,111.86 L431.15,112.31 L431.90,112.82 L432.65,113.43 L433.40,114.12 L434.15,114.85 L434.90,115.57 L435.65,116.24 L436.40,116.82 L437.15,117.35 L437.90,117.84 L438.65,118.31 L439.40,118.78 L440.15,119.28 L440.90,119.82 L441.65,120.39 L442.40,120.99 L443.15,121.60 L443.90,122.22 L444.65,122.82 L445.40,123.42 L446.15,124.04 L446.90,124.66 L447.65,125.28 L448.40,125.86 L449.15,126.38 L449.90,126.83 L450.65,127.23 L451.40,127.58 L452.15,127.92 L452.90,128.25 L453.65,128.60 L454.40,128.99 L455.15,129.43 L455.90,129.94 L456.65,130.49 L457.40,131.03 L458.15,131.55 L458.90,132.00 L459.65,132.36 L460.40,132.69 L461.15,132.98 L461.90,133.26 L462.65,133.53 L463.40,133.82 L464.15,134.12 L464.90,134.44 L465.65,134.78 L466.40,135.12 L467.15,135.46 L467.90,135.79 L468.65,136.12 L469.40,136.44 L470.15,136.76 L470.90,137.07 L471.65,137.38 L472.40,137.70 L473.15,138.02 L473.90,138.37 L474.65,138.73 L475.40,139.10 L476.15,139.46 L476.90,139.79 L477.65,140.08 L478.40,140.33 L479.15,140.55 L479.90,140.76 L480.65,140.95 L481.40,141.14 L482.15,141.34 L482.90,141.54 L483.65,141.76 L484.40,141.98 L485.15,142.21 L485.90,142.43 L486.65,142.66 L487.40,142.89 L488.15,143.12 L488.90,143.35 L489.65,143.58 L490.40,143.82 L491.15,144.06 L491.90,144.28 L492.65,144.49 L493.40,144.67 L494.15,144.85 L494.90,145.03 L495.65,145.20 L496.40,145.36 L497.15,145.48 L497.90,145.58 L498.65,145.65 L499.40,145.70 L500.15,145.75 L500.90,145.79 L501.65,145.82 L502.40,145.86 L503.15,145.90 L503.90,145.94 L504.65,145.98 L505.40,146.01 L506.15,146.04 L506.90,146.08 L507.65,146.12 L508.40,146.16 L509.15,146.21 L509.90,146.27 L510.65,146.35 L511.40,146.48 L512.15,146.65 L512.90,146.84 L513.50,147.00" fill="none" stroke="#111" stroke-width="1.5" stroke-dasharray="1.7 3.3"/>
<path d="M284.90,20.90 L285.65,21.01 L286.40,21.15 L287.15,21.30 L287.90,21.48 L288.65,21.67 L289.40,21.91 L290.15,22.18 L290.90,22.46 L291.65,22.74 L292.40,23.00 L293.15,23.25 L293.90,23.47 L294.65,23.69 L295.40,23.90 L296.15,24.11 L296.90,24.32 L297.65,24.52 L298.40,24.72 L299.15,24.92 L299.90,25.12 L300.65,25.32 L301.40,25.52 L302.15,25.73 L302.90,25.94 L303.65,26.16 L304.40,26.37 L305.15,26.59 L305.90,26.80 L306.65,27.02 L307.40,27.23 L308.15,27.45 L308.90,27.67 L309.65,27.90 L310.40,28.13 L311.15,28.36 L311.90,28.60 L312.65,28.85 L313.40,29.10 L314.15,29.36 L314.90,29.62 L315.65,29.88 L316.40,30.15 L317.15,30.43 L317.90,30.71 L318.65,31.00 L319.40,31.29 L320.15,31.59 L320.90,31.90 L321.65,32.22 L322.40,32.54 L323.15,32.88 L323.90,33.23 L324.65,33.60 L325.40,33.99 L326.15,34.40 L326.90,34.81 L327.65,35.23 L328.40,35.64 L329.15,36.05 L329.90,36.45 L330.65,36.83 L331.40,37.21 L332.15,37.58 L332.90,37.94 L333.65,38.31 L334.40,38.67 L335.15,39.03 L335.90,39.40 L336.65,39.77 L337.40,40.14 L338.15,40.52 L338.90,40.91 L339.65,41.31 L340.40,41.72 L341.15,42.15 L341.90,42.58 L342.65,43.03 L343.40,43.49 L344.15,43.95 L344.90,44.42 L345.65,44.89 L346.40,45.36 L347.15,45.83 L347.90,46.29 L348.65,46.74 L349.40,47.19 L350.15,47.63 L350.90,48.06 L351.65,48.48 L352.40,48.89 L353.15,49.30 L353.90,49.70 L354.65,50.11 L355.40,50.51 L356.15,50.91 L356.90,51.32 L357.65,51.73 L358.40,52.14 L359.15,52.56 L359.90,52.98 L360.65,53.43 L361.40,53.89 L362.15,54.36 L362.90,54.83 L363.65,55.29 L364.40,55.73 L365.15,56.12 L365.90,56.48 L366.65,56.79 L367.40,57.09 L368.15,57.38 L368.90,57.69 L369.65,58.03 L370.40,58.41 L371.15,58.86 L371.90,59.36 L372.65,59.91 L373.40,60.48 L374.15,61.06 L374.90,61.62 L375.65,62.16 L376.40,62.65 L377.15,63.07 L377.90,63.43 L378.65,63.74 L379.40,64.02 L380.15,64.30 L380.90,64.59 L381.65,64.93 L382.40,65.31 L383.15,65.76 L383.90,66.24 L384.65,66.77 L385.40,67.32 L386.15,67.91 L386.90,68.51 L387.65,69.12 L388.40,69.73 L389.15,70.34 L389.90,70.95 L390.65,71.54 L391.40,72.10 L392.15,72.63 L392.90,73.15 L393.65,73.64 L394.40,74.13 L395.15,74.61 L395.90,75.09 L396.65,75.56 L397.40,76.03 L398.15,76.50 L398.90,76.97 L399.65,77.45 L400.40,77.94 L401.15,78.45 L401.90,78.96 L402.65,79.49 L403.40,80.01 L404.15,80.54 L404.90,81.07 L405.65,81.61 L406.40,82.16 L407.15,82.73 L407.90,83.32 L408.65,83.93 L409.40,84.57 L410.15,85.24 L410.90,85.98 L411.65,86.78 L412.40,87.62 L413.15,88.48 L413.90,89.33 L414.65,90.14 L415.40,90.90 L416.15,91.66 L416.90,92.41 L417.65,93.15 L418.40,93.88 L419.15,94.59 L419.90,95.28 L420.65,95.93 L421.40,96.54 L422.15,97.11 L422.90,97.64 L423.65,98.14 L424.40,98.60 L425.15,99.05 L425.90,99.48 L426.65,99.90 L427.40,100.31 L428.15,100.72 L428.90,101.14 L429.65,101.56 L430.40,102.01 L431.15,102.47 L431.90,102.96 L432.65,103.48 L433.40,104.02 L434.15,104.56 L434.90,105.13 L435.65,105.70 L436.40,106.29 L437.15,106.88 L437.90,107.49 L438.65,108.12 L439.40,108.75 L440.15,109.39 L440.90,110.04 L441.65,110.70 L442.40,111.37 L443.15,112.09 L443.90,112.86 L444.65,113.65 L445.40,114.47 L446.15,115.28 L446.90,116.09 L447.65,116.87 L448.40,117.61 L449.15,118.30 L449.90,118.92 L450.65,119.48 L451.40,119.99 L452.15,120.47 L452.90,120.92 L453.65,121.36 L454.40,121.79 L455.15,122.22 L455.90,122.67 L456.65,123.14 L457.40,123.64 L458.15,124.18 L458.90,124.75 L459.65,125.29 L460.40,125.79 L461.15,126.26 L461.90,126.72 L462.65,127.15 L463.40,127.58 L464.15,127.99 L464.90,128.40 L465.65,128.80 L466.40,129.21 L467.15,129.62 L467.90,130.03 L468.65,130.45 L469.40,130.88 L470.15,131.33 L470.90,131.80 L471.65,132.30 L472.40,132.82 L473.15,133.34 L473.90,133.86 L474.65,134.36 L475.40,134.84 L476.15,135.29 L476.90,135.70 L477.65,136.06 L478.40,136.40 L479.15,136.71 L479.90,137.00 L480.65,137.29 L481.40,137.56 L482.15,137.83 L482.90,138.10 L483.65,138.38 L484.40,138.67 L485.15,138.98 L485.90,139.31 L486.65,139.65 L487.40,140.01 L488.15,140.38 L488.90,140.74 L489.65,141.11 L490.40,141.47 L491.15,141.81 L491.90,142.13 L492.65,142.43 L493.40,142.71 L494.15,142.98 L494.90,143.24 L495.65,143.50 L496.40,143.72 L497.15,143.92 L497.90,144.07 L498.65,144.18 L499.40,144.26 L500.15,144.33 L500.90,144.40 L501.65,144.46 L502.40,144.53 L503.15,144.61 L503.90,144.69 L504.65,144.77 L505.40,144.86 L506.15,144.94 L506.90,145.03 L507.65,145.14 L508.40,145.25 L509.15,145.38 L509.90,145.53 L510.65,145.72 L511.40,145.99 L512.15,146.32 L512.90,146.69 L513.50,147.00" fill="none" stroke="#0c0c0c" stroke-width="1.2" stroke-dasharray="9 1.6"/>
<path d="M284.90,20.90 L285.65,21.02 L286.40,21.16 L287.15,21.31 L287.90,21.48 L288.65,21.66 L289.40,21.88 L290.15,22.11 L290.90,22.35 L291.65,22.60 L292.40,22.83 L293.15,23.04 L293.90,23.24 L294.65,23.44 L295.40,23.63 L296.15,23.82 L296.90,24.00 L297.65,24.19 L298.40,24.37 L299.15,24.55 L299.90,24.72 L300.65,24.90 L301.40,25.08 L302.15,25.27 L302.90,25.45 L303.65,25.64 L304.40,25.82 L305.15,26.00 L305.90,26.17 L306.65,26.35 L307.40,26.53 L308.15,26.71 L308.90,26.89 L309.65,27.07 L310.40,27.26 L311.15,27.46 L311.90,27.66 L312.65,27.87 L313.40,28.09 L314.15,28.32 L314.90,28.56 L315.65,28.81 L316.40,29.07 L317.15,29.34 L317.90,29.61 L318.65,29.89 L319.40,30.17 L320.15,30.45 L320.90,30.74 L321.65,31.02 L322.40,31.30 L323.15,31.58 L323.90,31.86 L324.65,32.13 L325.40,32.41 L326.15,32.69 L326.90,32.97 L327.65,33.25 L328.40,33.55 L329.15,33.85 L329.90,34.16 L330.65,34.48 L331.40,34.81 L332.15,35.15 L332.90,35.50 L333.65,35.86 L334.40,36.22 L335.15,36.59 L335.90,36.96 L336.65,37.33 L337.40,37.71 L338.15,38.08 L338.90,38.46 L339.65,38.83 L340.40,39.20 L341.15,39.57 L341.90,39.94 L342.65,40.32 L343.40,40.70 L344.15,41.08 L344.90,41.46 L345.65,41.84 L346.40,42.22 L347.15,42.61 L347.90,42.99 L348.65,43.37 L349.40,43.75 L350.15,44.13 L350.90,44.50 L351.65,44.88 L352.40,45.25 L353.15,45.63 L353.90,46.00 L354.65,46.38 L355.40,46.75 L356.15,47.13 L356.90,47.50 L357.65,47.88 L358.40,48.25 L359.15,48.63 L359.90,49.00 L360.65,49.38 L361.40,49.75 L362.15,50.13 L362.90,50.50 L363.65,50.88 L364.40,51.25 L365.15,51.62 L365.90,51.99 L366.65,52.36 L367.40,52.72 L368.15,53.09 L368.90,53.45 L369.65,53.83 L370.40,54.20 L371.15,54.58 L371.90,54.95 L372.65,55.33 L373.40,55.71 L374.15,56.09 L374.90,56.47 L375.65,56.86 L376.40,57.25 L377.15,57.64 L377.90,58.04 L378.65,58.44 L379.40,58.85 L380.15,59.27 L380.90,59.70 L381.65,60.13 L382.40,60.58 L383.15,61.03 L383.90,61.49 L384.65,61.95 L385.40,62.42 L386.15,62.89 L386.90,63.36 L387.65,63.84 L388.40,64.31 L389.15,64.78 L389.90,65.25 L390.65,65.72 L391.40,66.18 L392.15,66.63 L392.90,67.08 L393.65,67.52 L394.40,67.96 L395.15,68.40 L395.90,68.84 L396.65,69.28 L397.40,69.71 L398.15,70.15 L398.90,70.59 L399.65,71.03 L400.40,71.47 L401.15,71.92 L401.90,72.38 L402.65,72.83 L403.40,73.28 L404.15,73.73 L404.90,74.18 L405.65,74.63 L406.40,75.08 L407.15,75.55 L407.90,76.04 L408.65,76.54 L409.40,77.06 L410.15,77.61 L410.90,78.23 L411.65,78.91 L412.40,79.63 L413.15,80.37 L413.90,81.09 L414.65,81.78 L415.40,82.42 L416.15,82.97 L416.90,83.42 L417.65,83.79 L418.40,84.15 L419.15,84.52 L419.90,84.96 L420.65,85.54 L421.40,86.29 L422.15,87.15 L422.90,88.05 L423.65,88.93 L424.40,89.71 L425.15,90.34 L425.90,90.83 L426.65,91.26 L427.40,91.65 L428.15,92.01 L428.90,92.35 L429.65,92.70 L430.40,93.05 L431.15,93.44 L431.90,93.87 L432.65,94.36 L433.40,94.87 L434.15,95.41 L434.90,95.98 L435.65,96.56 L436.40,97.17 L437.15,97.80 L437.90,98.44 L438.65,99.11 L439.40,99.78 L440.15,100.47 L440.90,101.17 L441.65,101.87 L442.40,102.59 L443.15,103.37 L443.90,104.21 L444.65,105.09 L445.40,105.99 L446.15,106.90 L446.90,107.80 L447.65,108.66 L448.40,109.48 L449.15,110.24 L449.90,110.92 L450.65,111.52 L451.40,112.09 L452.15,112.63 L452.90,113.14 L453.65,113.64 L454.40,114.11 L455.15,114.57 L455.90,115.02 L456.65,115.46 L457.40,115.90 L458.15,116.33 L458.90,116.78 L459.65,117.23 L460.40,117.68 L461.15,118.14 L461.90,118.58 L462.65,119.02 L463.40,119.45 L464.15,119.88 L464.90,120.31 L465.65,120.74 L466.40,121.17 L467.15,121.61 L467.90,122.05 L468.65,122.50 L469.40,122.96 L470.15,123.43 L470.90,123.90 L471.65,124.37 L472.40,124.86 L473.15,125.38 L473.90,125.94 L474.65,126.59 L475.40,127.37 L476.15,128.21 L476.90,129.02 L477.65,129.73 L478.40,130.28 L479.15,130.75 L479.90,131.18 L480.65,131.57 L481.40,131.94 L482.15,132.29 L482.90,132.64 L483.65,133.00 L484.40,133.37 L485.15,133.77 L485.90,134.21 L486.65,134.67 L487.40,135.15 L488.15,135.63 L488.90,136.12 L489.65,136.61 L490.40,137.09 L491.15,137.55 L491.90,137.98 L492.65,138.38 L493.40,138.74 L494.15,139.08 L494.90,139.40 L495.65,139.70 L496.40,139.99 L497.15,140.27 L497.90,140.53 L498.65,140.79 L499.40,141.06 L500.15,141.32 L500.90,141.57 L501.65,141.79 L502.40,141.97 L503.15,142.11 L503.90,142.20 L504.65,142.26 L505.40,142.32 L506.15,142.37 L506.90,142.43 L507.65,142.52 L508.40,142.64 L509.15,142.88 L509.90,143.23 L510.65,143.70 L511.40,144.28 L512.15,145.32 L512.90,146.34 L513.50,147.00" fill="none" stroke="#161616" stroke-width="1.05"/>
<path d="M284.9,20.9 H516 V147.2" fill="none" stroke="#787878" stroke-width="1.1"/>
<path d="M284.9,20.9 V147.2" fill="none" stroke="#555" stroke-width="1.1"/>
<path d="M284.9,147.2 H516" fill="none" stroke="#3c3c3c" stroke-width="1"/>
<path d="M282.9,147.2 H284.9 M282.9,121.94 H284.9 M282.9,96.68 H284.9 M282.9,71.42 H284.9 M282.9,46.16 H284.9 M282.9,20.9 H284.9 M284.9,147.2 V149.2 M307.6,147.2 V149.2 M330.3,147.2 V149.2 M353,147.2 V149.2 M375.7,147.2 V149.2 M398.4,147.2 V149.2 M421.1,147.2 V149.2 M443.8,147.2 V149.2 M466.5,147.2 V149.2 M489.2,147.2 V149.2 M511.9,147.2 V149.2" stroke="#333" stroke-width="0.8"/>
<g class="tk"><text transform="translate(281.3,149.3) scale(0.9,1)" text-anchor="end">0</text><text transform="translate(281.3,124.04) scale(0.9,1)" text-anchor="end">0.2</text><text transform="translate(281.3,98.78) scale(0.9,1)" text-anchor="end">0.4</text><text transform="translate(281.3,73.52) scale(0.9,1)" text-anchor="end">0.6</text><text transform="translate(281.3,48.26) scale(0.9,1)" text-anchor="end">0.8</text><text transform="translate(281.3,23) scale(0.9,1)" text-anchor="end">1</text><text transform="translate(286.9,157.5) scale(0.9,1)" text-anchor="middle">50</text><text transform="translate(309.6,157.5) scale(0.9,1)" text-anchor="middle">55</text><text transform="translate(332.3,157.5) scale(0.9,1)" text-anchor="middle">60</text><text transform="translate(355,157.5) scale(0.9,1)" text-anchor="middle">65</text><text transform="translate(377.7,157.5) scale(0.9,1)" text-anchor="middle">70</text><text transform="translate(400.4,157.5) scale(0.9,1)" text-anchor="middle">75</text><text transform="translate(423.1,157.5) scale(0.9,1)" text-anchor="middle">80</text><text transform="translate(445.8,157.5) scale(0.9,1)" text-anchor="middle">85</text><text transform="translate(468.5,157.5) scale(0.9,1)" text-anchor="middle">90</text><text transform="translate(491.2,157.5) scale(0.9,1)" text-anchor="middle">95</text><text transform="translate(513.9,157.5) scale(0.9,1)" text-anchor="middle">100</text></g>
<text x="399.4" y="15.9" class="tt" text-anchor="middle">Men</text>
<text x="399.5" y="166.3" class="lb" text-anchor="middle">Age</text>
<text transform="translate(270.9,84.55) rotate(-90)" class="lb" text-anchor="middle">Proportion of survivors free of diabetes</text>
<text x="314.2" y="116.1" class="lb">low</text>
<path d="M299.8,114.2 H310.6" stroke="#222" stroke-width="1.2" stroke-dasharray="1.6 2.6"/>
<text x="314.2" y="124.8" class="lb">moderate</text>
<path d="M299.4,122.9 H310.6" stroke="#1a1a1a" stroke-width="1.2" stroke-dasharray="5.4 3.2"/>
<text x="314.2" y="133.5" class="lb">high</text>
<path d="M299.8,131.2 H310.6" stroke="#000" stroke-width="1.1"/>
</g>
<g>
<path d="M285.80,189.40 L286.55,189.46 L287.30,189.52 L288.05,189.59 L288.80,189.67 L289.55,189.76 L290.30,189.85 L291.05,189.95 L291.80,190.05 L292.55,190.16 L293.30,190.27 L294.05,190.39 L294.80,190.51 L295.55,190.64 L296.30,190.77 L297.05,190.90 L297.80,191.05 L298.55,191.21 L299.30,191.38 L300.05,191.56 L300.80,191.75 L301.55,191.95 L302.30,192.16 L303.05,192.37 L303.80,192.59 L304.55,192.81 L305.30,193.03 L306.05,193.26 L306.80,193.48 L307.55,193.71 L308.30,193.93 L309.05,194.15 L309.80,194.37 L310.55,194.59 L311.30,194.81 L312.05,195.03 L312.80,195.26 L313.55,195.50 L314.30,195.73 L315.05,195.97 L315.80,196.20 L316.55,196.44 L317.30,196.68 L318.05,196.91 L318.80,197.15 L319.55,197.38 L320.30,197.61 L321.05,197.83 L321.80,198.05 L322.55,198.26 L323.30,198.47 L324.05,198.67 L324.80,198.87 L325.55,199.06 L326.30,199.25 L327.05,199.43 L327.80,199.61 L328.55,199.79 L329.30,199.96 L330.05,200.14 L330.80,200.31 L331.55,200.49 L332.30,200.66 L333.05,200.84 L333.80,201.03 L334.55,201.21 L335.30,201.40 L336.05,201.60 L336.80,201.80 L337.55,202.00 L338.30,202.21 L339.05,202.41 L339.80,202.63 L340.55,202.85 L341.30,203.09 L342.05,203.34 L342.80,203.62 L343.55,203.94 L344.30,204.31 L345.05,204.69 L345.80,205.07 L346.55,205.41 L347.30,205.71 L348.05,205.98 L348.80,206.22 L349.55,206.45 L350.30,206.68 L351.05,206.94 L351.80,207.22 L352.55,207.52 L353.30,207.84 L354.05,208.18 L354.80,208.52 L355.55,208.86 L356.30,209.19 L357.05,209.53 L357.80,209.88 L358.55,210.22 L359.30,210.56 L360.05,210.88 L360.80,211.17 L361.55,211.44 L362.30,211.68 L363.05,211.91 L363.80,212.15 L364.55,212.40 L365.30,212.68 L366.05,212.98 L366.80,213.31 L367.55,213.66 L368.30,214.01 L369.05,214.35 L369.80,214.69 L370.55,215.02 L371.30,215.36 L372.05,215.69 L372.80,216.03 L373.55,216.36 L374.30,216.69 L375.05,217.02 L375.80,217.34 L376.55,217.66 L377.30,217.99 L378.05,218.32 L378.80,218.64 L379.55,218.97 L380.30,219.31 L381.05,219.64 L381.80,219.97 L382.55,220.31 L383.30,220.64 L384.05,220.98 L384.80,221.31 L385.55,221.64 L386.30,221.98 L387.05,222.33 L387.80,222.70 L388.55,223.10 L389.30,223.53 L390.05,223.97 L390.80,224.41 L391.55,224.84 L392.30,225.27 L393.05,225.69 L393.80,226.11 L394.55,226.52 L395.30,226.94 L396.05,227.35 L396.80,227.77 L397.55,228.18 L398.30,228.61 L399.05,229.02 L399.80,229.43 L400.55,229.82 L401.30,230.20 L402.05,230.53 L402.80,230.84 L403.55,231.14 L404.30,231.45 L405.05,231.81 L405.80,232.22 L406.55,232.72 L407.30,233.31 L408.05,233.93 L408.80,234.57 L409.55,235.19 L410.30,235.74 L411.05,236.26 L411.80,236.77 L412.55,237.26 L413.30,237.75 L414.05,238.24 L414.80,238.73 L415.55,239.22 L416.30,239.70 L417.05,240.18 L417.80,240.66 L418.55,241.13 L419.30,241.61 L420.05,242.10 L420.80,242.59 L421.55,243.09 L422.30,243.61 L423.05,244.14 L423.80,244.69 L424.55,245.27 L425.30,245.86 L426.05,246.45 L426.80,247.05 L427.55,247.64 L428.30,248.22 L429.05,248.79 L429.80,249.36 L430.55,249.94 L431.30,250.53 L432.05,251.14 L432.80,251.78 L433.55,252.44 L434.30,253.11 L435.05,253.78 L435.80,254.44 L436.55,255.06 L437.30,255.66 L438.05,256.24 L438.80,256.81 L439.55,257.36 L440.30,257.90 L441.05,258.43 L441.80,258.94 L442.55,259.43 L443.30,259.90 L444.05,260.37 L444.80,260.84 L445.55,261.31 L446.30,261.80 L447.05,262.29 L447.80,262.79 L448.55,263.30 L449.30,263.80 L450.05,264.30 L450.80,264.80 L451.55,265.28 L452.30,265.76 L453.05,266.25 L453.80,266.73 L454.55,267.23 L455.30,267.74 L456.05,268.23 L456.80,268.73 L457.55,269.23 L458.30,269.77 L459.05,270.35 L459.80,271.00 L460.55,271.78 L461.30,272.68 L462.05,273.65 L462.80,274.63 L463.55,275.56 L464.30,276.54 L465.05,277.55 L465.80,278.54 L466.55,279.49 L467.30,280.37 L468.05,281.15 L468.80,281.83 L469.55,282.47 L470.30,283.05 L471.05,283.61 L471.80,284.16 L472.55,284.70 L473.30,285.25 L474.05,285.80 L474.80,286.34 L475.55,286.87 L476.30,287.40 L477.05,287.91 L477.80,288.40 L478.55,288.88 L479.30,289.33 L480.05,289.76 L480.80,290.19 L481.55,290.62 L482.30,291.08 L483.05,291.57 L483.80,292.08 L484.55,292.62 L485.30,293.19 L486.05,293.79 L486.80,294.44 L487.55,295.15 L488.30,295.99 L489.05,296.92 L489.80,297.88 L490.55,298.77 L491.30,299.57 L492.05,300.34 L492.80,301.14 L493.55,302.03 L494.30,303.20 L495.05,304.56 L495.80,305.75 L496.55,306.52 L497.30,307.15 L498.05,307.70 L498.80,308.18 L499.55,308.60 L500.30,308.96 L501.05,309.29 L501.80,309.59 L502.55,309.85 L503.30,310.09 L504.05,310.31 L504.80,310.52 L505.55,310.71 L506.30,310.88 L507.05,311.03 L507.80,311.18 L508.55,311.33 L509.30,311.50 L510.05,311.69 L510.80,311.91 L511.55,312.15 L512.30,312.40 L513.05,312.66 L513.80,312.95 L514.20,313.10" fill="none" stroke="#111" stroke-width="1.5" stroke-dasharray="1.7 3.3"/>
<path d="M285.80,189.40 L286.55,189.46 L287.30,189.53 L288.05,189.61 L288.80,189.69 L289.55,189.77 L290.30,189.85 L291.05,189.94 L291.80,190.04 L292.55,190.14 L293.30,190.24 L294.05,190.34 L294.80,190.45 L295.55,190.56 L296.30,190.67 L297.05,190.79 L297.80,190.91 L298.55,191.04 L299.30,191.18 L300.05,191.33 L300.80,191.48 L301.55,191.64 L302.30,191.80 L303.05,191.97 L303.80,192.13 L304.55,192.30 L305.30,192.47 L306.05,192.65 L306.80,192.82 L307.55,192.99 L308.30,193.15 L309.05,193.32 L309.80,193.48 L310.55,193.64 L311.30,193.80 L312.05,193.96 L312.80,194.13 L313.55,194.29 L314.30,194.45 L315.05,194.62 L315.80,194.78 L316.55,194.95 L317.30,195.11 L318.05,195.28 L318.80,195.44 L319.55,195.60 L320.30,195.76 L321.05,195.92 L321.80,196.07 L322.55,196.23 L323.30,196.38 L324.05,196.53 L324.80,196.68 L325.55,196.82 L326.30,196.96 L327.05,197.11 L327.80,197.25 L328.55,197.39 L329.30,197.52 L330.05,197.66 L330.80,197.80 L331.55,197.94 L332.30,198.07 L333.05,198.21 L333.80,198.35 L334.55,198.48 L335.30,198.62 L336.05,198.76 L336.80,198.90 L337.55,199.03 L338.30,199.16 L339.05,199.30 L339.80,199.45 L340.55,199.63 L341.30,199.84 L342.05,200.06 L342.80,200.29 L343.55,200.55 L344.30,200.81 L345.05,201.09 L345.80,201.37 L346.55,201.66 L347.30,201.96 L348.05,202.25 L348.80,202.54 L349.55,202.83 L350.30,203.11 L351.05,203.40 L351.80,203.69 L352.55,203.99 L353.30,204.30 L354.05,204.60 L354.80,204.91 L355.55,205.22 L356.30,205.54 L357.05,205.85 L357.80,206.16 L358.55,206.47 L359.30,206.78 L360.05,207.08 L360.80,207.38 L361.55,207.69 L362.30,207.99 L363.05,208.30 L363.80,208.61 L364.55,208.92 L365.30,209.22 L366.05,209.52 L366.80,209.82 L367.55,210.12 L368.30,210.42 L369.05,210.70 L369.80,210.99 L370.55,211.27 L371.30,211.56 L372.05,211.85 L372.80,212.15 L373.55,212.44 L374.30,212.73 L375.05,213.02 L375.80,213.30 L376.55,213.56 L377.30,213.82 L378.05,214.05 L378.80,214.26 L379.55,214.45 L380.30,214.62 L381.05,214.76 L381.80,214.87 L382.55,214.97 L383.30,215.06 L384.05,215.16 L384.80,215.27 L385.55,215.41 L386.30,215.57 L387.05,215.79 L387.80,216.05 L388.55,216.35 L389.30,216.69 L390.05,217.06 L390.80,217.44 L391.55,217.84 L392.30,218.24 L393.05,218.65 L393.80,219.04 L394.55,219.43 L395.30,219.79 L396.05,220.12 L396.80,220.43 L397.55,220.73 L398.30,221.02 L399.05,221.30 L399.80,221.58 L400.55,221.85 L401.30,222.13 L402.05,222.41 L402.80,222.69 L403.55,222.99 L404.30,223.30 L405.05,223.62 L405.80,223.96 L406.55,224.32 L407.30,224.70 L408.05,225.09 L408.80,225.50 L409.55,225.93 L410.30,226.37 L411.05,226.82 L411.80,227.29 L412.55,227.76 L413.30,228.24 L414.05,228.73 L414.80,229.23 L415.55,229.73 L416.30,230.24 L417.05,230.79 L417.80,231.38 L418.55,231.98 L419.30,232.54 L420.05,233.03 L420.80,233.45 L421.55,233.81 L422.30,234.14 L423.05,234.46 L423.80,234.78 L424.55,235.13 L425.30,235.53 L426.05,236.00 L426.80,236.59 L427.55,237.37 L428.30,238.24 L429.05,239.12 L429.80,239.91 L430.55,240.59 L431.30,241.23 L432.05,241.85 L432.80,242.46 L433.55,243.04 L434.30,243.61 L435.05,244.17 L435.80,244.71 L436.55,245.24 L437.30,245.75 L438.05,246.26 L438.80,246.76 L439.55,247.25 L440.30,247.73 L441.05,248.18 L441.80,248.60 L442.55,249.00 L443.30,249.40 L444.05,249.81 L444.80,250.24 L445.55,250.70 L446.30,251.21 L447.05,251.78 L447.80,252.40 L448.55,253.05 L449.30,253.72 L450.05,254.39 L450.80,255.04 L451.55,255.65 L452.30,256.22 L453.05,256.73 L453.80,257.21 L454.55,257.66 L455.30,258.12 L456.05,258.59 L456.80,259.09 L457.55,259.65 L458.30,260.28 L459.05,261.01 L459.80,261.84 L460.55,262.72 L461.30,263.64 L462.05,264.54 L462.80,265.44 L463.55,266.36 L464.30,267.29 L465.05,268.25 L465.80,269.21 L466.55,270.22 L467.30,271.34 L468.05,272.43 L468.80,273.32 L469.55,273.94 L470.30,274.45 L471.05,274.89 L471.80,275.29 L472.55,275.65 L473.30,276.02 L474.05,276.40 L474.80,276.82 L475.55,277.29 L476.30,277.78 L477.05,278.29 L477.80,278.81 L478.55,279.35 L479.30,279.90 L480.05,280.46 L480.80,281.03 L481.55,281.60 L482.30,282.18 L483.05,282.78 L483.80,283.41 L484.55,284.08 L485.30,284.80 L486.05,285.58 L486.80,286.44 L487.55,287.33 L488.30,288.24 L489.05,289.15 L489.80,290.08 L490.55,291.05 L491.30,292.09 L492.05,293.22 L492.80,294.60 L493.55,296.22 L494.30,297.80 L495.05,299.04 L495.80,299.88 L496.55,300.59 L497.30,301.20 L498.05,301.77 L498.80,302.35 L499.55,302.99 L500.30,303.67 L501.05,304.36 L501.80,305.03 L502.55,305.64 L503.30,306.17 L504.05,306.58 L504.80,306.87 L505.55,307.10 L506.30,307.30 L507.05,307.48 L507.80,307.67 L508.55,307.88 L509.30,308.14 L510.05,308.45 L510.80,308.79 L511.55,309.17 L512.30,309.58 L513.05,310.01 L513.20,310.10" fill="none" stroke="#0c0c0c" stroke-width="1.2" stroke-dasharray="9 1.6"/>
<path d="M285.80,189.40 L286.55,189.46 L287.30,189.53 L288.05,189.60 L288.80,189.67 L289.55,189.75 L290.30,189.83 L291.05,189.91 L291.80,190.00 L292.55,190.08 L293.30,190.18 L294.05,190.27 L294.80,190.37 L295.55,190.47 L296.30,190.57 L297.05,190.68 L297.80,190.79 L298.55,190.91 L299.30,191.04 L300.05,191.17 L300.80,191.31 L301.55,191.45 L302.30,191.59 L303.05,191.74 L303.80,191.89 L304.55,192.04 L305.30,192.19 L306.05,192.35 L306.80,192.50 L307.55,192.65 L308.30,192.79 L309.05,192.94 L309.80,193.08 L310.55,193.22 L311.30,193.36 L312.05,193.50 L312.80,193.65 L313.55,193.79 L314.30,193.93 L315.05,194.07 L315.80,194.22 L316.55,194.36 L317.30,194.50 L318.05,194.64 L318.80,194.78 L319.55,194.92 L320.30,195.05 L321.05,195.19 L321.80,195.32 L322.55,195.45 L323.30,195.58 L324.05,195.71 L324.80,195.83 L325.55,195.94 L326.30,196.06 L327.05,196.16 L327.80,196.27 L328.55,196.38 L329.30,196.48 L330.05,196.59 L330.80,196.70 L331.55,196.81 L332.30,196.92 L333.05,197.03 L333.80,197.15 L334.55,197.28 L335.30,197.41 L336.05,197.55 L336.80,197.70 L337.55,197.86 L338.30,198.05 L339.05,198.24 L339.80,198.45 L340.55,198.65 L341.30,198.86 L342.05,199.07 L342.80,199.29 L343.55,199.52 L344.30,199.74 L345.05,199.97 L345.80,200.20 L346.55,200.44 L347.30,200.67 L348.05,200.90 L348.80,201.13 L349.55,201.36 L350.30,201.59 L351.05,201.82 L351.80,202.05 L352.55,202.28 L353.30,202.51 L354.05,202.74 L354.80,202.97 L355.55,203.20 L356.30,203.44 L357.05,203.67 L357.80,203.90 L358.55,204.13 L359.30,204.36 L360.05,204.58 L360.80,204.81 L361.55,205.04 L362.30,205.27 L363.05,205.49 L363.80,205.72 L364.55,205.94 L365.30,206.17 L366.05,206.39 L366.80,206.61 L367.55,206.84 L368.30,207.06 L369.05,207.29 L369.80,207.51 L370.55,207.73 L371.30,207.96 L372.05,208.18 L372.80,208.40 L373.55,208.63 L374.30,208.85 L375.05,209.07 L375.80,209.29 L376.55,209.51 L377.30,209.74 L378.05,209.96 L378.80,210.18 L379.55,210.41 L380.30,210.63 L381.05,210.85 L381.80,211.07 L382.55,211.28 L383.30,211.49 L384.05,211.70 L384.80,211.92 L385.55,212.13 L386.30,212.35 L387.05,212.58 L387.80,212.81 L388.55,213.04 L389.30,213.29 L390.05,213.55 L390.80,213.82 L391.55,214.12 L392.30,214.44 L393.05,214.77 L393.80,215.11 L394.55,215.43 L395.30,215.74 L396.05,216.02 L396.80,216.27 L397.55,216.51 L398.30,216.73 L399.05,216.95 L399.80,217.15 L400.55,217.35 L401.30,217.56 L402.05,217.76 L402.80,217.97 L403.55,218.20 L404.30,218.44 L405.05,218.70 L405.80,218.98 L406.55,219.29 L407.30,219.64 L408.05,220.02 L408.80,220.44 L409.55,220.88 L410.30,221.34 L411.05,221.81 L411.80,222.30 L412.55,222.80 L413.30,223.30 L414.05,223.79 L414.80,224.28 L415.55,224.76 L416.30,225.22 L417.05,225.69 L417.80,226.16 L418.55,226.63 L419.30,227.09 L420.05,227.53 L420.80,227.94 L421.55,228.34 L422.30,228.72 L423.05,229.09 L423.80,229.47 L424.55,229.86 L425.30,230.27 L426.05,230.71 L426.80,231.18 L427.55,231.70 L428.30,232.24 L429.05,232.80 L429.80,233.35 L430.55,233.90 L431.30,234.46 L432.05,235.03 L432.80,235.60 L433.55,236.17 L434.30,236.74 L435.05,237.29 L435.80,237.82 L436.55,238.34 L437.30,238.84 L438.05,239.32 L438.80,239.80 L439.55,240.26 L440.30,240.72 L441.05,241.17 L441.80,241.60 L442.55,242.02 L443.30,242.44 L444.05,242.85 L444.80,243.26 L445.55,243.67 L446.30,244.09 L447.05,244.52 L447.80,244.95 L448.55,245.41 L449.30,245.87 L450.05,246.36 L450.80,246.88 L451.55,247.41 L452.30,247.96 L453.05,248.51 L453.80,249.06 L454.55,249.61 L455.30,250.14 L456.05,250.64 L456.80,251.12 L457.55,251.60 L458.30,252.10 L459.05,252.64 L459.80,253.24 L460.55,253.93 L461.30,254.75 L462.05,255.67 L462.80,256.65 L463.55,257.65 L464.30,258.62 L465.05,259.54 L465.80,260.42 L466.55,261.31 L467.30,262.19 L468.05,263.05 L468.80,263.86 L469.55,264.60 L470.30,265.27 L471.05,265.86 L471.80,266.39 L472.55,266.89 L473.30,267.38 L474.05,267.87 L474.80,268.38 L475.55,268.94 L476.30,269.51 L477.05,270.11 L477.80,270.70 L478.55,271.30 L479.30,271.90 L480.05,272.48 L480.80,273.04 L481.55,273.56 L482.30,274.05 L483.05,274.54 L483.80,275.06 L484.55,275.62 L485.30,276.24 L486.05,276.95 L486.80,277.82 L487.55,278.89 L488.30,280.09 L489.05,281.36 L489.80,282.61 L490.55,283.83 L491.30,285.08 L492.05,286.35 L492.80,287.63 L493.55,288.90 L494.30,290.13 L495.05,291.39 L495.80,292.64 L496.55,293.78 L497.30,294.73 L498.05,295.55 L498.80,296.30 L499.55,296.99 L500.30,297.63 L501.05,298.25 L501.80,298.86 L502.55,299.47 L503.30,300.10 L504.05,300.71 L504.80,301.27 L505.55,301.76 L506.30,302.14 L507.05,302.41 L507.80,302.62 L508.55,302.84 L509.30,303.15 L510.05,303.62 L510.80,304.24 L511.55,304.95 L512.30,305.70 L513.05,306.56 L513.80,307.54 L514.20,308.10" fill="none" stroke="#161616" stroke-width="1.05"/>
<path d="M285.8,189.4 H516.5 V315.6" fill="none" stroke="#787878" stroke-width="1.1"/>
<path d="M285.8,189.4 V315.6" fill="none" stroke="#555" stroke-width="1.1"/>
<path d="M285.8,315.6 H516.5" fill="none" stroke="#3c3c3c" stroke-width="1"/>
<path d="M283.8,315.6 H285.8 M283.8,290.36 H285.8 M283.8,265.12 H285.8 M283.8,239.88 H285.8 M283.8,214.64 H285.8 M283.8,189.4 H285.8 M285.8,315.6 V317.6 M308.47,315.6 V317.6 M331.14,315.6 V317.6 M353.81,315.6 V317.6 M376.48,315.6 V317.6 M399.15,315.6 V317.6 M421.82,315.6 V317.6 M444.49,315.6 V317.6 M467.16,315.6 V317.6 M489.83,315.6 V317.6 M512.5,315.6 V317.6" stroke="#333" stroke-width="0.8"/>
<g class="tk"><text transform="translate(282.2,317.7) scale(0.9,1)" text-anchor="end">0</text><text transform="translate(282.2,292.46) scale(0.9,1)" text-anchor="end">0.2</text><text transform="translate(282.2,267.22) scale(0.9,1)" text-anchor="end">0.4</text><text transform="translate(282.2,241.98) scale(0.9,1)" text-anchor="end">0.6</text><text transform="translate(282.2,216.74) scale(0.9,1)" text-anchor="end">0.8</text><text transform="translate(282.2,191.5) scale(0.9,1)" text-anchor="end">1</text><text transform="translate(287.8,325.9) scale(0.9,1)" text-anchor="middle">50</text><text transform="translate(310.47,325.9) scale(0.9,1)" text-anchor="middle">55</text><text transform="translate(333.14,325.9) scale(0.9,1)" text-anchor="middle">60</text><text transform="translate(355.81,325.9) scale(0.9,1)" text-anchor="middle">65</text><text transform="translate(378.48,325.9) scale(0.9,1)" text-anchor="middle">70</text><text transform="translate(401.15,325.9) scale(0.9,1)" text-anchor="middle">75</text><text transform="translate(423.82,325.9) scale(0.9,1)" text-anchor="middle">80</text><text transform="translate(446.49,325.9) scale(0.9,1)" text-anchor="middle">85</text><text transform="translate(469.16,325.9) scale(0.9,1)" text-anchor="middle">90</text><text transform="translate(491.83,325.9) scale(0.9,1)" text-anchor="middle">95</text><text transform="translate(514.5,325.9) scale(0.9,1)" text-anchor="middle">100</text></g>
<text x="399.9" y="184.7" class="tt" text-anchor="middle">Women</text>
<text x="399.5" y="334.6" class="lb" text-anchor="middle">Age</text>
<text transform="translate(270.9,252.8) rotate(-90)" class="lb" text-anchor="middle">Proportion of survivors free of diabetes</text>
<text x="314.2" y="284.7" class="lb">low</text>
<path d="M299.8,282.8 H310.6" stroke="#222" stroke-width="1.2" stroke-dasharray="1.6 2.6"/>
<text x="314.2" y="293.4" class="lb">moderate</text>
<path d="M299.4,291.5 H310.6" stroke="#1a1a1a" stroke-width="1.2" stroke-dasharray="5.4 3.2"/>
<text x="314.2" y="302.1" class="lb">high</text>
<path d="M299.8,299.8 H310.6" stroke="#000" stroke-width="1.1"/>
</g>
</svg>
</body></html>
